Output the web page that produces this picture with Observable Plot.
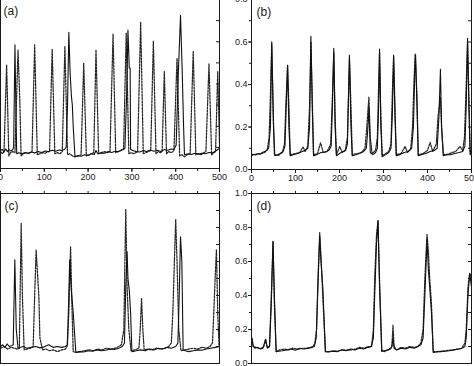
<!DOCTYPE html>
<html><head><meta charset="utf-8">
<script src="https://cdn.jsdelivr.net/npm/d3@7"></script>
<script src="https://cdn.jsdelivr.net/npm/@observablehq/plot@0.6"></script>
<style>
html,body{margin:0;padding:0;background:#fff;}
#fig{position:relative;width:474px;height:366px;overflow:hidden;background:#fff;}
</style></head><body><div id="fig"></div>
<script>
// ---- data: [time, value] ----
const aSolid = [[0,0.085],[4,0.09],[8,0.078],[12,0.092],[16,0.08],[20,0.088],[24,0.082],[28,0.09],[30,0.1],[33,0.585],[35,0.3],[37,0.07],[42,0.075],[48,0.07],[55,0.075],[62,0.072],[70,0.078],[78,0.074],[86,0.08],[94,0.076],[102,0.083],[110,0.08],[118,0.086],[126,0.082],[134,0.088],[140,0.085],[146,0.09],[150,0.1],[153,0.3],[156,0.645],[159,0.45],[162,0.34],[164,0.3],[166,0.2],[170,0.057],[176,0.06],[184,0.058],[192,0.065],[200,0.062],[208,0.07],[214,0.066],[218,0.085],[222,0.07],[230,0.074],[238,0.072],[246,0.08],[254,0.076],[262,0.082],[270,0.08],[278,0.09],[284,0.095],[288,0.35],[291,0.655],[294,0.476],[296,0.476],[297,0.09],[302,0.085],[310,0.08],[318,0.078],[326,0.085],[334,0.08],[342,0.088],[350,0.082],[358,0.086],[366,0.08],[374,0.09],[382,0.086],[390,0.092],[396,0.09],[401,0.11],[406,0.45],[411,0.725],[415,0.45],[418,0.2],[420,0.065],[428,0.07],[436,0.066],[444,0.072],[452,0.068],[460,0.072],[468,0.07],[476,0.076],[484,0.074],[490,0.08],[496,0.09],[500,0.095]];
const aDashed = [[0,0.08],[4,0.07],[8,0.08],[14,0.49],[19,0.06],[23,0.075],[28,0.08],[33,0.075],[40,0.56],[44,0.33],[47,0.06],[52,0.07],[58,0.075],[64,0.07],[72,0.08],[78,0.585],[84,0.065],[90,0.07],[96,0.075],[102,0.072],[108,0.08],[112,0.08],[118,0.565],[124,0.07],[130,0.075],[136,0.07],[141,0.08],[147,0.578],[153,0.065],[158,0.07],[164,0.06],[170,0.055],[178,0.06],[184,0.065],[190,0.498],[196,0.06],[202,0.065],[208,0.07],[213,0.075],[218,0.562],[224,0.07],[230,0.075],[238,0.08],[244,0.075],[250,0.08],[257,0.637],[263,0.075],[268,0.08],[274,0.085],[281,0.09],[287,0.641],[293,0.07],[298,0.075],[305,0.07],[313,0.08],[320,0.692],[326,0.07],[332,0.075],[338,0.08],[343,0.085],[349,0.602],[355,0.07],[360,0.08],[365,0.075],[369,0.08],[374,0.459],[379,0.07],[384,0.08],[390,0.075],[396,0.085],[403,0.522],[409,0.06],[414,0.065],[420,0.055],[426,0.065],[433,0.07],[440,0.554],[446,0.065],[452,0.07],[458,0.065],[464,0.075],[469,0.08],[476,0.495],[482,0.065],[487,0.075],[491,0.08],[496,0.459],[500,0.12]];

const bSolid = [[0,0.065],[5,0.07],[10,0.068],[15,0.075],[20,0.072],[25,0.08],[30,0.085],[35,0.09],[39,0.1],[43,0.2],[46,0.601],[50,0.2],[53,0.065],[58,0.068],[65,0.075],[72,0.085],[76,0.11],[79,0.3],[82,0.49],[85,0.2],[88,0.065],[95,0.07],[105,0.075],[115,0.085],[122,0.09],[128,0.1],[132,0.2],[135,0.627],[138,0.3],[141,0.065],[148,0.07],[158,0.08],[168,0.082],[176,0.09],[181,0.11],[184,0.3],[187,0.57],[190,0.2],[193,0.065],[200,0.075],[208,0.085],[214,0.09],[218,0.12],[222.6,0.538],[226,0.2],[229,0.065],[235,0.068],[245,0.075],[255,0.085],[261,0.1],[264,0.18],[267,0.29],[270,0.08],[276,0.07],[282,0.08],[286,0.1],[289,0.3],[291,0.567],[294,0.2],[297,0.06],[305,0.07],[312,0.08],[317,0.1],[320,0.25],[323,0.538],[326,0.25],[329,0.065],[337,0.07],[347,0.08],[357,0.085],[364,0.1],[368,0.2],[371,0.45],[373,0.538],[376,0.3],[379,0.065],[386,0.07],[396,0.075],[406,0.085],[416,0.09],[422,0.1],[426,0.25],[429.4,0.471],[432,0.2],[436,0.065],[442,0.068],[452,0.07],[462,0.075],[472,0.08],[480,0.085],[485,0.11],[488,0.3],[491,0.617],[494,0.3],[497,0.07],[500,0.08]];
const bDashed = [[0,0.07],[10,0.072],[20,0.075],[30,0.08],[36,0.095],[40,0.15],[43,0.35],[46,0.59],[49,0.3],[52,0.07],[60,0.065],[70,0.08],[75,0.12],[78,0.3],[82,0.49],[85,0.3],[88,0.07],[100,0.075],[110,0.08],[117,0.106],[122,0.085],[128,0.11],[132,0.3],[135,0.6],[138,0.35],[141,0.07],[150,0.075],[157,0.125],[163,0.08],[172,0.085],[180,0.12],[184,0.35],[187,0.55],[190,0.25],[193,0.07],[200.5,0.108],[206,0.08],[213,0.09],[218,0.15],[222.6,0.52],[226,0.3],[229,0.07],[240,0.075],[250,0.08],[258,0.1],[262,0.2],[266.8,0.34],[270,0.15],[274,0.075],[282,0.09],[286,0.15],[289,0.4],[291,0.55],[294,0.25],[297,0.065],[305,0.075],[312,0.085],[317,0.12],[320,0.35],[323,0.53],[326,0.3],[329,0.07],[340,0.075],[349,0.108],[355,0.08],[362,0.1],[366,0.2],[369,0.4],[372,0.545],[376,0.35],[379,0.07],[390,0.075],[400,0.09],[406,0.127],[412,0.085],[420,0.12],[424,0.25],[429.4,0.34],[432,0.2],[436,0.07],[446,0.072],[456,0.08],[464,0.085],[474,0.108],[480,0.09],[484,0.15],[488,0.4],[491,0.6],[494,0.35],[497,0.08],[500,0.09]];

const cSolid = [[0,0.1],[5,0.11],[10,0.095],[15,0.115],[20,0.1],[25,0.105],[29,0.11],[32.7,0.61],[36,0.2],[40,0.09],[46,0.095],[52,0.1],[60,0.09],[70,0.095],[80,0.1],[90,0.092],[100,0.098],[110,0.11],[120,0.095],[130,0.1],[140,0.095],[148,0.1],[153,0.11],[158,0.61],[160,0.5],[162,0.42],[166,0.3],[172,0.065],[180,0.07],[190,0.068],[200,0.075],[210,0.072],[220,0.08],[230,0.075],[240,0.078],[250,0.085],[260,0.082],[270,0.09],[278,0.1],[283,0.12],[286,0.45],[289,0.657],[291,0.5],[294,0.43],[297,0.3],[300,0.07],[310,0.075],[320,0.08],[330,0.075],[340,0.085],[350,0.08],[360,0.09],[370,0.085],[380,0.095],[390,0.09],[400,0.1],[405,0.12],[408,0.4],[411,0.745],[414,0.6],[417,0.08],[422,0.075],[430,0.07],[440,0.075],[450,0.08],[460,0.078],[470,0.085],[480,0.09],[490,0.095],[500,0.1]];
const cDashed = [[0,0.09],[8,0.1],[16,0.085],[24,0.095],[32,0.09],[38,0.085],[43,0.09],[47.2,0.824],[50,0.4],[54,0.08],[60,0.085],[68,0.09],[74.6,0.1],[78,0.4],[81.4,0.667],[84,0.55],[87.5,0.4],[90,0.15],[96,0.08],[104,0.085],[112,0.075],[120,0.08],[130,0.07],[140,0.08],[148,0.085],[152,0.1],[156,0.3],[160,0.686],[163,0.35],[166,0.07],[172,0.065],[182,0.07],[192,0.075],[202,0.08],[212,0.075],[222,0.085],[232,0.08],[242,0.09],[252,0.085],[262,0.09],[270,0.1],[276,0.11],[281.6,0.2],[284,0.6],[286,0.906],[289,0.45],[293,0.2],[298,0.075],[306,0.08],[312,0.085],[316,0.09],[319,0.2],[322,0.382],[325,0.2],[328,0.08],[336,0.085],[346,0.08],[356,0.09],[366,0.085],[376,0.09],[384,0.1],[390,0.12],[393.5,0.3],[397,0.6],[400,0.847],[403,0.6],[407,0.2],[412,0.075],[420,0.08],[430,0.085],[440,0.09],[450,0.085],[460,0.095],[470,0.09],[478,0.1],[484,0.12],[487,0.3],[490,0.5],[493,0.67],[496,0.3],[499,0.1]];

const dSolid = [[0,0.12],[1,0.147],[4,0.1],[8,0.09],[14,0.095],[20,0.085],[26,0.09],[32,0.143],[36,0.095],[41,0.1],[45,0.35],[48.9,0.716],[52,0.4],[56,0.07],[62,0.072],[70,0.075],[80,0.08],[90,0.085],[100,0.078],[110,0.09],[120,0.085],[130,0.09],[138,0.095],[143,0.1],[147,0.15],[151,0.45],[155,0.75],[158,0.6],[162,0.45],[168,0.07],[175,0.068],[185,0.072],[195,0.07],[205,0.08],[215,0.075],[225,0.085],[235,0.08],[245,0.09],[255,0.085],[265,0.095],[272,0.1],[277,0.15],[280,0.4],[284,0.7],[287.5,0.84],[291,0.45],[296,0.07],[302,0.075],[310,0.08],[316,0.085],[319,0.1],[321.6,0.15],[324,0.09],[330,0.08],[340,0.09],[350,0.085],[360,0.095],[370,0.09],[378,0.1],[385,0.11],[390,0.15],[394,0.4],[398.9,0.73],[402,0.55],[405,0.45],[409,0.3],[413,0.065],[420,0.068],[430,0.07],[440,0.072],[450,0.075],[460,0.08],[470,0.085],[478,0.09],[485,0.1],[488,0.15],[492,0.4],[495.9,0.53],[500,0.45]];
const dDashed = [[0,0.13],[1,0.15],[4,0.1],[10,0.095],[16,0.09],[22,0.088],[28,0.1],[32,0.14],[36,0.09],[41,0.1],[45,0.4],[48.9,0.72],[52,0.35],[56,0.07],[64,0.08],[74,0.085],[84,0.08],[94,0.09],[104,0.085],[114,0.088],[124,0.09],[134,0.095],[140,0.1],[144,0.12],[148,0.2],[151,0.5],[155,0.77],[158,0.62],[162,0.4],[168,0.07],[176,0.07],[186,0.075],[196,0.072],[206,0.08],[216,0.078],[226,0.08],[236,0.085],[246,0.095],[256,0.09],[266,0.1],[273,0.1],[277,0.2],[280,0.5],[284,0.75],[287.5,0.84],[291,0.5],[296,0.08],[302,0.07],[310,0.08],[316,0.09],[319,0.1],[321.6,0.225],[324,0.1],[330,0.08],[340,0.095],[350,0.09],[360,0.1],[370,0.095],[378,0.1],[385,0.12],[390,0.2],[394,0.5],[398.9,0.76],[402,0.66],[405,0.5],[409,0.35],[413,0.07],[420,0.07],[430,0.072],[440,0.075],[450,0.078],[460,0.08],[470,0.085],[478,0.09],[485,0.12],[488,0.2],[492,0.45],[495.9,0.53],[500,0.5]];

// ---- ticks & labels ----
const xTicks = [0, 100, 200, 300, 400, 500];
const xMinor = [0, 50, 100, 150, 200, 250, 300, 350, 400, 450, 500];
const yTicksTop = [0, 0.2, 0.4, 0.6, 0.8];
const yMinorTop = [0, 0.1, 0.2, 0.3, 0.4, 0.5, 0.6, 0.7, 0.8];
const yTicksBottom = [0, 0.2, 0.4, 0.6, 0.8, 1.0];
const yMinorBottom = [0, 0.1, 0.2, 0.3, 0.4, 0.5, 0.6, 0.7, 0.8, 0.9, 1.0];
const panelLabels = ["(a)", "(b)", "(c)", "(d)"];

const FONT = "'Liberation Sans', Arial, Helvetica, sans-serif";
const INK = "#1a1a1a";
const toPts = arr => arr.map(([t, v]) => ({t, v}));

function panel(o) {
  const mL = 40, mT = 12, mR = 12, mB = 30;
  const marks = [
    Plot.line(toPts(o.dashed), {x: "t", y: "v", stroke: "#262626", strokeWidth: 1.25, strokeDasharray: "2,1.3", clip: true}),
    Plot.line(toPts(o.solid), {x: "t", y: "v", stroke: "#111", strokeWidth: 1.1, clip: true}),
    Plot.frame({stroke: INK, strokeWidth: 1}),
    Plot.tickY(o.yMinor, {y: d => d, insetLeft: o.w - 3, stroke: INK}),
    Plot.text([o.label], {frameAnchor: "top-left", dx: o.ldx, dy: o.ldy, text: d => d, textAnchor: "start", lineAnchor: "middle", fontSize: 12, fill: INK})
  ];
  if (o.bottomAxis) {
    marks.push(Plot.axisX(xMinor, {anchor: "bottom", tickSize: 3, tickFormat: () => "", label: null, stroke: INK}));
    marks.push(Plot.axisX(xTicks, {anchor: "bottom", tickSize: 4, tickPadding: 1, fontSize: 9, label: null, stroke: INK, fill: INK}));
  }
  if (o.topTicks) {
    marks.push(Plot.axisX(xMinor, {anchor: "top", tickSize: 3, tickFormat: () => "", label: null, stroke: INK}));
  }
  if (o.leftAxis) {
    marks.push(Plot.axisY(o.yMinor, {anchor: "left", tickSize: 2, tickFormat: () => "", label: null, stroke: INK}));
    marks.push(Plot.axisY(o.yTicks, {anchor: "left", tickSize: 3, tickPadding: 1, fontSize: 9, tickFormat: d3.format(".1f"), label: null, stroke: INK, fill: INK}));
  }
  const svg = Plot.plot({
    width: mL + o.w + mR,
    height: mT + o.h + mB,
    marginLeft: mL, marginTop: mT, marginRight: mR, marginBottom: mB,
    x: {domain: [0, 500], axis: null},
    y: {domain: o.yDomain, axis: null},
    style: {background: "transparent", fontFamily: FONT, overflow: "visible"},
    marks
  });
  svg.style.position = "absolute";
  svg.style.left = (o.left - mL) + "px";
  svg.style.top = (o.top - mT) + "px";
  svg.style.background = "transparent";
  svg.style.maxWidth = "none";
  document.getElementById("fig").appendChild(svg);
}

panel({left: 0, top: -1, w: 219, h: 169, yDomain: [0, 0.8], solid: aSolid, dashed: aDashed, label: panelLabels[0], ldx: 3, ldy: 12, bottomAxis: true, yMinor: yMinorTop, yTicks: yTicksTop});
panel({left: 251, top: -1, w: 220, h: 170, yDomain: [0, 0.8], solid: bSolid, dashed: bDashed, label: panelLabels[1], ldx: 5, ldy: 13, bottomAxis: true, leftAxis: true, yMinor: yMinorTop, yTicks: yTicksTop});
panel({left: 0, top: 193, w: 219, h: 170, yDomain: [0, 1], solid: cSolid, dashed: cDashed, label: panelLabels[2], ldx: 4, ldy: 13, topTicks: true, yMinor: yMinorBottom, yTicks: yTicksBottom});
panel({left: 251, top: 193, w: 220, h: 170, yDomain: [0, 1], solid: dSolid, dashed: dDashed, label: panelLabels[3], ldx: 5, ldy: 13, topTicks: true, leftAxis: true, yMinor: yMinorBottom, yTicks: yTicksBottom});
</script></body></html>
